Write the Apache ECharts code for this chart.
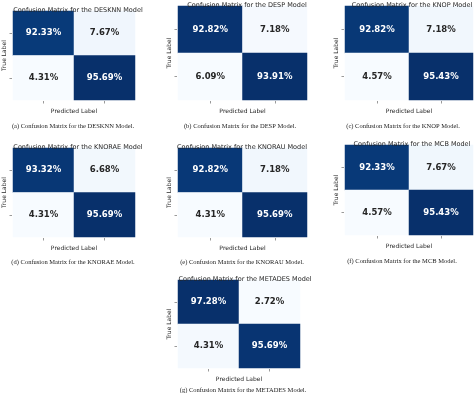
<!DOCTYPE html>
<html><head><meta charset="utf-8">
<script src="https://cdn.jsdelivr.net/npm/echarts@6/dist/echarts.min.js"></script>
<style>html,body{margin:0;padding:0;background:#fff}#c{width:474px;height:393px}</style>
</head><body><div id="c"></div>
<script>
const models = ['DESKNN','DESP','KNOP','KNORAE','KNORAU','MCB','METADES'];
const letters = ['a','b','c','d','e','f','g'];
const predCats = ['0','1'];
const trueCats = ['0','1'];
const valDESKNN = [[92.33, 7.67],[4.31, 95.69]];
const valDESP   = [[92.82, 7.18],[6.09, 93.91]];
const valKNOP   = [[92.82, 7.18],[4.57, 95.43]];
const valKNORAE = [[93.32, 6.68],[4.31, 95.69]];
const valKNORAU = [[92.82, 7.18],[4.31, 95.69]];
const valMCB    = [[92.33, 7.67],[4.57, 95.43]];
const valMETADES= [[97.28, 2.72],[4.31, 95.69]];
const allVals = [valDESKNN,valDESP,valKNOP,valKNORAE,valKNORAU,valMCB,valMETADES];

const layout = [
  {g:[11,11,124,89],  t:[73,6],   c:[68,122]},
  {g:[178,6,129,94],  t:[242,1],  c:[235,122]},
  {g:[345,6,128,94],  t:[407,1],  c:[398,122]},
  {g:[12,148,123,89], t:[73,143], c:[68,258]},
  {g:[178,148,129,89],t:[237,143],c:[237,258]},
  {g:[345,145,128,90],t:[407,140],c:[397,257]},
  {g:[178,280,122,88],t:[240,275],c:[238,386]}
];
const blues = ['#f7fbff','#deebf7','#c6dbef','#9ecae1','#6baed6','#4292c6','#2171b5','#08519c','#08306b'];

const grid=[], xAxis=[], yAxis=[], series=[], visualMap=[], title=[];
models.forEach((m,i)=>{
  const L = layout[i];
  const vals = allVals[i];
  const flat = vals.flat();
  const mn = Math.min(...flat), mx = Math.max(...flat);
  grid.push({left:L.g[0], top:L.g[1], width:L.g[2], height:L.g[3]});
  xAxis.push({type:'category', gridIndex:i, data:predCats, name:'Predicted Label', offset:1,
    nameLocation:'middle', nameGap:7, nameTextStyle:{fontFamily:'DejaVu Sans', fontSize:6, color:'#262626'},
    axisLine:{show:false}, axisTick:{show:true, alignWithLabel:true, length:2.5, lineStyle:{color:'#555',width:0.6}},
    axisLabel:{show:false}, splitLine:{show:false}});
  yAxis.push({type:'category', gridIndex:i, data:trueCats, inverse:true, name:'True Label', offset:1,
    nameLocation:'middle', nameGap:5, nameRotate:90, nameTextStyle:{fontFamily:'DejaVu Sans', fontSize:6, color:'#262626'},
    axisLine:{show:false}, axisTick:{show:true, alignWithLabel:true, length:2.5, lineStyle:{color:'#555',width:0.6}},
    axisLabel:{show:false}, splitLine:{show:false}});
  const data=[];
  vals.forEach((row,r)=>row.forEach((v,c)=>{
    data.push({value:[c,r,v], label:{color: v > (mn+mx)/2 ? '#ffffff' : '#262626'}});
  }));
  series.push({type:'heatmap', xAxisIndex:i, yAxisIndex:i, data,
    label:{show:true, fontFamily:'DejaVu Sans', fontWeight:'bold', fontSize:8.5,
      formatter:p=>p.value[2].toFixed(2)+'%'},
    itemStyle:{borderWidth:0}, emphasis:{disabled:true}});
  visualMap.push({show:false, seriesIndex:i, min:mn, max:mx, dimension:2, inRange:{color:blues}});
  title.push({text:'Confusion Matrix for the '+m+' Model', left:L.t[0], top:L.t[1]-4, textAlign:'center',
    textStyle:{fontFamily:'DejaVu Sans', fontSize:6.5, fontWeight:'normal', color:'#262626'}});
  title.push({text:'('+letters[i]+') Confusion Matrix for the '+m+' Model.', left:L.c[0], top:L.c[1]-4, textAlign:'center',
    textStyle:{fontFamily:'Liberation Serif', fontSize:6.5, fontWeight:'normal', color:'#222'}});
});

const chart = echarts.init(document.getElementById('c'), null, {renderer:'canvas'});
chart.setOption({animation:false, backgroundColor:'#ffffff', title, grid, xAxis, yAxis, series, visualMap});
</script></body></html>
